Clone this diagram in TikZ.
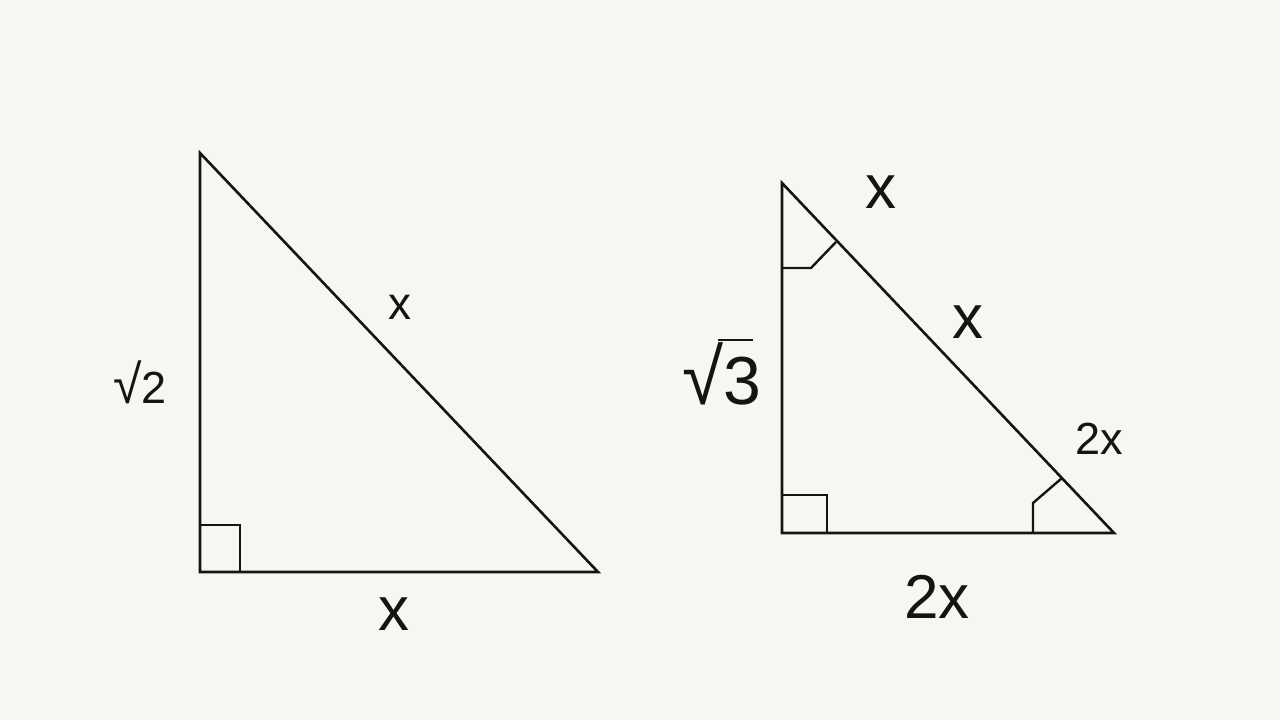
\documentclass[tikz,border=0pt]{standalone}
\usepackage{fontspec}
\setmainfont{Liberation Sans}
\definecolor{bg}{RGB}{248,246,241}
\definecolor{ink}{RGB}{20,20,20}
\begin{document}
\begin{tikzpicture}[x=1pt,y=-1pt,
  edge/.style={draw=ink,line width=2.6pt,line join=miter},
  anglemark/.style={draw=ink,line width=2.4pt},
  lbl/.style={inner sep=0pt,text=ink},
  fs/.style={font=\fontsize{#1}{#1}\selectfont}]
\fill[bg] (0,0) rectangle (1280,720);
\useasboundingbox (0,0) rectangle (1280,720);
% left triangle
\coordinate (A) at (200,153);
\coordinate (B) at (200,572);
\coordinate (C) at (598,572);
\draw[edge] (A) -- (B) -- (C) -- cycle;
\draw[anglemark] (200,525) -- (240,525) -- (240,572);
% right triangle
\coordinate (D) at (782,183);
\coordinate (E) at (782,533);
\coordinate (F) at (1114,533);
\draw[edge] (D) -- (E) -- (F) -- cycle;
\draw[anglemark] (782,495) -- (827,495) -- (827,533);
\draw[anglemark] (782,268) -- (811,268) -- (836,242);
\draw[anglemark] (1033,533) -- (1033,503) -- (1062,478);
% labels left
\node[lbl,fs=46] (lx1) at (400,307) {x};
\node[lbl,fs=62] (lx2) at (394,614) {x};
\node[lbl,fs=45] (ls2) at (140,382) {\scalebox{1.15}[1.2]{√}2};
% labels right
\node[lbl,fs=62] (rx1) at (881,192) {x};
\node[lbl,fs=62] (rx2) at (968,322) {x};
\node[lbl,fs=62] (r2x) at (937,597) {2x};
\node[lbl,fs=45] (r2xs) at (1099,439) {2x};
\node[lbl,fs=68] (rs3) at (722,374) {\scalebox{1.1}[1.15]{√}3};
\draw[ink,line width=2.8pt] (718,340) -- (753,340);
\end{tikzpicture}
\end{document}
